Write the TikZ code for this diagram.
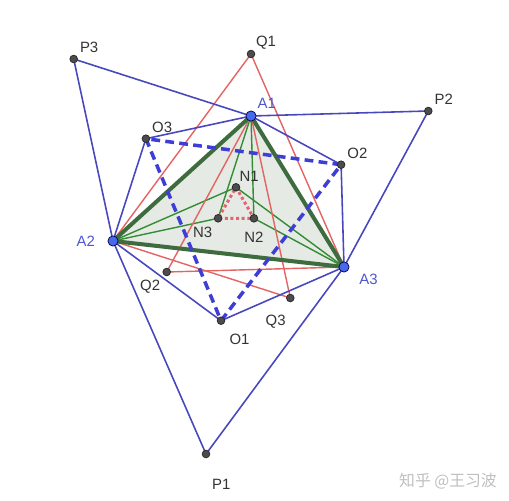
\documentclass[tikz,border=0pt]{standalone}
\usepackage{fontspec}
\setmainfont{Liberation Sans}
\newfontfamily\cjk{Noto Sans CJK SC}
\usetikzlibrary{positioning}
\definecolor{lineblue}{RGB}{72,72,190}
\definecolor{dashblue}{RGB}{62,62,215}
\definecolor{linered}{RGB}{228,100,100}
\definecolor{thickgreen}{RGB}{62,108,62}
\definecolor{thingreen}{RGB}{52,140,52}
\definecolor{fillgray}{RGB}{229,234,229}
\definecolor{dotred}{RGB}{228,100,112}
\definecolor{vertblue}{RGB}{72,105,235}
\definecolor{labelblue}{RGB}{78,88,205}
\tikzset{
  pt/.style={circle,draw=black!85,fill=black!70,inner sep=0pt,minimum size=4.4pt},
  vert/.style={circle,draw=black!70!blue,fill=vertblue,inner sep=0pt,minimum size=5.8pt},
  lbl/.style={font=\fontsize{8.5}{10}\selectfont,text=black!80,inner sep=1pt},
  vlbl/.style={lbl,text=labelblue},
  side/.style={lineblue,line width=0.9pt},
  inner/.style={linered,line width=0.8pt},
  spoke/.style={thingreen,line width=0.8pt},
}
\begin{document}
\begin{tikzpicture}[x=0.02cm,y=-0.02cm]
  \useasboundingbox (0,0) rectangle (509,500);

  % triangle and its equilateral points
  \coordinate (A1) at (251,116);
  \coordinate (A2) at (113,241);
  \coordinate (A3) at (344,267);
  \coordinate (P1) at (206,454);
  \coordinate (P2) at (428.3,111);
  \coordinate (P3) at (73.7,59);
  \coordinate (Q1) at (251,54);
  \coordinate (Q2) at (166.7,272);
  \coordinate (Q3) at (290.3,298);
  \coordinate (O1) at (221,320.7);
  \coordinate (O2) at (341.1,164.7);
  \coordinate (O3) at (145.9,138.7);
  \coordinate (N1) at (236,187.3);
  \coordinate (N2) at (253.9,218.3);
  \coordinate (N3) at (218.1,218.3);

  \fill[fillgray] (A1) -- (A2) -- (A3) -- cycle;

  % centers of inner triangles
  \draw[spoke] (A2) -- (N1) -- (A3);
  \draw[spoke] (A1) -- (N2) -- (A3);
  \draw[spoke] (A1) -- (N3) -- (A2);

  % inner equilateral triangles
  \draw[inner] (A2) -- (Q1) -- (A3);
  \draw[inner] (A1) -- (Q2) -- (A3);
  \draw[inner] (A1) -- (Q3) -- (A2);

  % outer equilateral triangles
  \draw[side] (A2) -- (P1) -- (A3);
  \draw[side] (A3) -- (P2) -- (A1);
  \draw[side] (A1) -- (P3) -- (A2);
  \draw[side] (A2) -- (O1) -- (A3);
  \draw[side] (A3) -- (O2) -- (A1);
  \draw[side] (A1) -- (O3) -- (A2);

  \draw[thickgreen,line width=2.3pt,line join=round] (A1) -- (A2) -- (A3) -- cycle;

  % Napoleon triangles
  \draw[dashblue,line width=2pt,dash pattern=on 5pt off 3pt] (O1) -- (O2) -- (O3) -- cycle;
  \draw[dotred,line width=1.7pt,dash pattern=on 1.7pt off 1.5pt] (N1) -- (N2) -- (N3) -- cycle;

  % points
  \node[pt,label={[lbl,label distance=1pt]45:P3}] (p3) at (P3) {};
  \node[pt,label={[lbl,label distance=0pt]45:Q1}] (q1) at (Q1) {};
  \node[pt,label={[lbl,label distance=1pt]45:P2}] (p2) at (P2) {};
  \node[pt,label={[lbl,label distance=1pt]45:O3}] (o3) at (O3) {};
  \node[pt,label={[lbl,label distance=1pt]45:O2}] (o2) at (O2) {};
  \node[pt,label={[lbl,label distance=0pt]70:N1}] (n1) at (N1) {};
  \node[pt,label={[lbl,label distance=2pt]-120:N3}] (n3) at (N3) {};
  \node[pt,label={[lbl,label distance=4pt]-90:N2}] (n2) at (N2) {};
  \node[pt,label={[lbl,label distance=2pt]-125:Q2}] (q2) at (Q2) {};
  \node[pt,label={[lbl,label distance=6pt]-100:Q3}] (q3) at (Q3) {};
  \node[pt,label={[lbl,label distance=5pt]-60:O1}] (o1) at (O1) {};
  \node[pt,label={[lbl,label distance=11pt]-80:P1}] (p1) at (P1) {};
  \node[vert,label={[vlbl,label distance=1pt]50:A1}] (a1) at (A1) {};
  \node[vert,label={[vlbl,label distance=6pt]180:A2}] (a2) at (A2) {};
  \node[vert,label={[vlbl,label distance=5pt]-20:A3}] (a3) at (A3) {};

  \node[font=\cjk\fontsize{9}{10}\selectfont,text=black!25] (mark) at (448,481) {知乎 @王习波};
\end{tikzpicture}
\end{document}
